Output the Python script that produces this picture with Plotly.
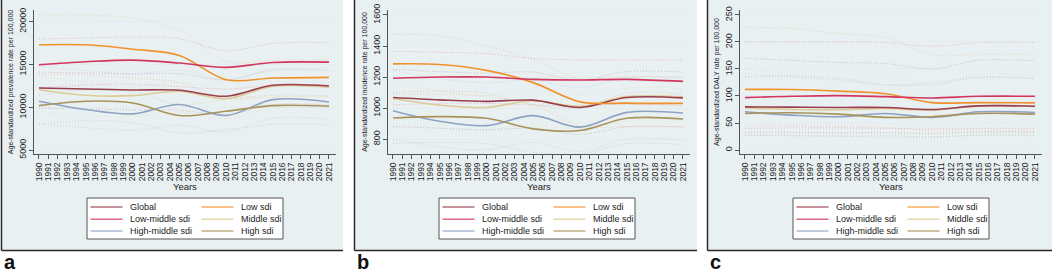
import plotly.graph_objects as go

# ---------------- data ----------------
YEARS = [1990, 1995, 2000, 2005, 2010, 2015, 2021]
X_TICKS = list(range(1990, 2022))
SERIES = ["Global", "Low sdi", "Low-middle sdi", "Middle sdi", "High-middle sdi", "High sdi"]

# panel a: age-standardized prevalence rate per 100,000
prev_global = [12250, 12130, 12020, 11980, 11280, 12560, 12480]
prev_global_lo = [9900, 9800, 9700, 9650, 9100, 10300, 10250]
prev_global_hi = [14100, 14000, 13900, 13900, 13200, 14300, 14250]
prev_low = [17290, 17290, 16780, 16050, 13220, 13410, 13490]
prev_low_lo = [13800, 13800, 13400, 12900, 11000, 11200, 11280]
prev_low_hi = [20800, 20750, 20400, 19000, 15350, 15500, 15550]
prev_lowmid = [14960, 15310, 15500, 15160, 14650, 15230, 15270]
prev_lowmid_lo = [12300, 12600, 12700, 12400, 12100, 12550, 12600]
prev_lowmid_hi = [17950, 18100, 18200, 18000, 16600, 17450, 17550]
prev_middle = [12050, 11400, 11350, 11860, 11010, 12440, 12330]
prev_middle_lo = [9500, 9000, 8950, 9400, 8700, 9900, 9800]
prev_middle_hi = [13600, 12900, 12400, 12900, 12100, 12900, 12900]
prev_highmid = [10700, 9730, 9225, 10310, 9030, 10890, 10620]
prev_highmid_lo = [8000, 7600, 7300, 7900, 7100, 8700, 8600]
prev_highmid_hi = [14800, 14300, 13900, 14300, 13200, 14500, 14420]
prev_high = [10190, 10700, 10500, 9030, 9530, 10190, 10110]
prev_high_lo = [7980, 8400, 8200, 7000, 7400, 8000, 7950]
prev_high_hi = [11400, 12000, 11800, 10300, 10900, 11400, 11300]

# panel b: age-standardized incidence rate per 100,000
inc_global = [1068, 1053, 1043, 1051, 1004, 1068, 1066]
inc_global_lo = [880, 870, 860, 870, 830, 880, 878]
inc_global_hi = [1250, 1235, 1225, 1232, 1180, 1235, 1232]
inc_low = [1285, 1281, 1243, 1164, 1040, 1032, 1030]
inc_low_lo = [1090, 1090, 1075, 1020, 885, 880, 878]
inc_low_hi = [1475, 1465, 1400, 1313, 1190, 1200, 1200]
inc_lowmid = [1192, 1200, 1200, 1185, 1181, 1185, 1172]
inc_lowmid_lo = [1020, 1030, 1030, 1020, 1015, 1025, 1015]
inc_lowmid_hi = [1365, 1360, 1350, 1320, 1310, 1310, 1310]
inc_middle = [1062, 1019, 1004, 1047, 1011, 1074, 1072]
inc_middle_lo = [900, 870, 860, 895, 865, 915, 912]
inc_middle_hi = [1175, 1110, 1080, 1120, 1085, 1130, 1125]
inc_highmid = [983, 915, 887, 951, 877, 972, 968]
inc_highmid_lo = [800, 750, 730, 780, 720, 800, 795]
inc_highmid_hi = [1243, 1190, 1164, 1180, 1132, 1200, 1195]
inc_high = [936, 945, 934, 866, 855, 934, 930]
inc_high_lo = [770, 780, 770, 715, 705, 770, 765]
inc_high_hi = [1100, 1110, 1095, 1020, 1005, 1095, 1090]

# panel c: age-standardized DALY rate per 100,000
daly_global = [79.9, 79.3, 78.7, 78.7, 75.0, 81.7, 81.1]
daly_global_lo = [33, 33, 32, 32, 31, 33, 33]
daly_global_hi = [170, 166, 162, 160, 150, 166, 165]
daly_low = [112.2, 112.0, 109.0, 104.3, 87.8, 87.8, 87.2]
daly_low_lo = [45, 45, 44, 42, 36, 36, 36]
daly_low_hi = [227, 225, 216, 208, 176, 177, 177]
daly_lowmid = [97.0, 99.4, 100.6, 98.8, 96.3, 99.4, 99.4]
daly_lowmid_lo = [40, 41, 41, 40, 39, 40, 40]
daly_lowmid_hi = [200, 200, 200, 199, 192, 199, 199]
daly_middle = [78.0, 75.0, 74.4, 76.8, 73.8, 81.7, 81.0]
daly_middle_lo = [31, 30, 30, 31, 30, 33, 33]
daly_middle_hi = [150, 140, 126, 140, 120, 140, 138]
daly_highmid = [70.7, 64.6, 61.6, 67.7, 60.4, 70.7, 69.5]
daly_highmid_lo = [28, 26, 25, 27, 24, 28, 28]
daly_highmid_hi = [142, 135, 130, 120, 125, 135, 133]
daly_high = [67.7, 68.9, 66.5, 60.4, 61.6, 67.7, 66.5]
daly_high_lo = [27, 27, 26, 24, 24, 27, 26]
daly_high_hi = [135, 137, 133, 121, 121, 134, 132]

PREV_TICKS = [5000, 10000, 15000, 20000]
INC_TICKS = [800, 1000, 1200, 1400, 1600]
DALY_TICKS = [0, 50, 100, 150, 200, 250]

# ---------------- styles ----------------
COLORS = {
    "Global": (154, 62, 78),
    "Low sdi": (240, 146, 43),
    "Low-middle sdi": (210, 54, 95),
    "Middle sdi": (220, 203, 150),
    "High-middle sdi": (142, 162, 194),
    "High sdi": (168, 147, 90),
}
FONT = "Liberation Sans, Arial, sans-serif"
W, H = 1052, 274


def px(x):
    return x / W


def py(y):
    return 1 - y / H


panels = [
    dict(label="a", bg=(2, 343), dom=(34.3, 335.5), yr=(4536, 21357), ticks=PREV_TICKS,
         ytitle="Age-standardized prevalence rate per 100,000", leg=87,
         data={"Global": (prev_global, prev_global_lo, prev_global_hi),
               "Low sdi": (prev_low, prev_low_lo, prev_low_hi),
               "Low-middle sdi": (prev_lowmid, prev_lowmid_lo, prev_lowmid_hi),
               "Middle sdi": (prev_middle, prev_middle_lo, prev_middle_hi),
               "High-middle sdi": (prev_highmid, prev_highmid_lo, prev_highmid_hi),
               "High sdi": (prev_high, prev_high_lo, prev_high_hi)}),
    dict(label="b", bg=(355, 697), dom=(388.3, 689.5), yr=(704, 1632), ticks=INC_TICKS,
         ytitle="Age-standardized incidence rate per 100,000", leg=439,
         data={"Global": (inc_global, inc_global_lo, inc_global_hi),
               "Low sdi": (inc_low, inc_low_lo, inc_low_hi),
               "Low-middle sdi": (inc_lowmid, inc_lowmid_lo, inc_lowmid_hi),
               "Middle sdi": (inc_middle, inc_middle_lo, inc_middle_hi),
               "High-middle sdi": (inc_highmid, inc_highmid_lo, inc_highmid_hi),
               "High sdi": (inc_high, inc_high_lo, inc_high_hi)}),
    dict(label="c", bg=(708, 1052), dom=(740.3, 1041.5), yr=(-7.4, 259.2), ticks=DALY_TICKS,
         ytitle="Age-standardized DALY rate per 100,000", leg=793,
         data={"Global": (daly_global, daly_global_lo, daly_global_hi),
               "Low sdi": (daly_low, daly_low_lo, daly_low_hi),
               "Low-middle sdi": (daly_lowmid, daly_lowmid_lo, daly_lowmid_hi),
               "Middle sdi": (daly_middle, daly_middle_lo, daly_middle_hi),
               "High-middle sdi": (daly_highmid, daly_highmid_lo, daly_highmid_hi),
               "High sdi": (daly_high, daly_high_lo, daly_high_hi)}),
]

fig = go.Figure()
shapes = []
annotations = []
layout = {}

for i, p in enumerate(panels):
    n = "" if i == 0 else str(i + 1)
    xa, ya = "x" + n, "y" + n
    # CI dotted lines first
    for s in SERIES:
        r, g, b = COLORS[s]
        mean, lo, hi = p["data"][s]
        for ci in (lo, hi):
            fig.add_trace(go.Scatter(
                x=YEARS, y=ci, mode="lines", xaxis=xa, yaxis=ya, showlegend=False,
                line=dict(color=f"rgba({r},{g},{b},0.32)", width=1, dash="1px,2px",
                          shape="spline", smoothing=1.0),
                hoverinfo="skip"))
    for s in ["Middle sdi", "High-middle sdi", "High sdi", "Global", "Low sdi", "Low-middle sdi"]:
        r, g, b = COLORS[s]
        mean = p["data"][s][0]
        fig.add_trace(go.Scatter(
            x=YEARS, y=mean, mode="lines", name=s, xaxis=xa, yaxis=ya, showlegend=False,
            line=dict(color=f"rgb({r},{g},{b})", width=1.6, shape="spline", smoothing=1.0)))

    layout["xaxis" + n] = dict(
        domain=[px(p["dom"][0]), px(p["dom"][1])], anchor=ya, range=[1989.5, 2021.7],
        tickmode="array", tickvals=X_TICKS, ticktext=[str(t) for t in X_TICKS],
        tickangle=-90, tickfont=dict(size=8.5, color="#222", family=FONT),
        ticks="outside", ticklen=4, tickcolor="#555", showline=True, linecolor="#555",
        linewidth=1, showgrid=False, zeroline=False, automargin=False, fixedrange=True,
        title=dict(text="Years", font=dict(size=9.5, color="#222", family=FONT), standoff=3))
    layout["yaxis" + n] = dict(
        domain=[py(154), py(10)], anchor=xa, range=list(p["yr"]),
        tickmode="array", tickvals=p["ticks"], ticktext=[str(t) for t in p["ticks"]],
        tickangle=-90, tickfont=dict(size=9, color="#222", family=FONT),
        ticks="outside", ticklen=4, tickcolor="#555", showline=True, linecolor="#555",
        linewidth=1, showgrid=True, gridcolor="#E4ECEF", gridwidth=1, zeroline=False,
        automargin=False, fixedrange=True,
        title=dict(text=p["ytitle"], font=dict(size=7, color="#222", family=FONT), standoff=3))

    # panel background and frame
    x0, x1 = p["bg"]
    shapes.append(dict(type="rect", xref="paper", yref="paper", x0=px(x0), x1=px(x1),
                       y0=py(250), y1=py(0), fillcolor="#E9F0F2", line=dict(width=0),
                       layer="below"))
    shapes.append(dict(type="line", xref="paper", yref="paper", x0=px(x0 - 0.5), x1=px(x0 - 0.5),
                       y0=py(250.5), y1=py(0), line=dict(color="#2a2a2a", width=1.5)))
    shapes.append(dict(type="line", xref="paper", yref="paper", x0=px(x0 - 0.5), x1=px(x1),
                       y0=py(250.5), y1=py(250.5), line=dict(color="#2a2a2a", width=1.5)))

    # legend box
    lx = p["leg"]
    shapes.append(dict(type="rect", xref="paper", yref="paper", x0=px(lx), x1=px(lx + 196),
                       y0=py(239), y1=py(198), fillcolor="white",
                       line=dict(color="#555", width=1), layer="above"))
    cols = [["Global", "Low-middle sdi", "High-middle sdi"], ["Low sdi", "Middle sdi", "High sdi"]]
    col_off = [(3.5, 35.5, 41), (114.5, 146.5, 152)]
    rows_y = [207, 219.3, 231]
    for c, names in enumerate(cols):
        l0, l1, t0 = col_off[c]
        for rr, s in enumerate(names):
            r, g, b = COLORS[s]
            yy = rows_y[rr]
            shapes.append(dict(type="line", xref="paper", yref="paper",
                               x0=px(lx + l0), x1=px(lx + l1), y0=py(yy), y1=py(yy),
                               line=dict(color=f"rgba({r},{g},{b},0.75)", width=1.5),
                               layer="above"))
            annotations.append(dict(text=s, xref="paper", yref="paper", x=px(lx + t0),
                                    y=py(yy), xanchor="left", yanchor="middle", showarrow=False,
                                    font=dict(size=9, color="#222", family=FONT)))
    annotations.append(dict(text="<b>" + p["label"] + "</b>", xref="paper", yref="paper",
                            x=px(x0), y=py(262), xanchor="left", yanchor="middle",
                            showarrow=False, font=dict(size=20, color="#111", family=FONT)))

fig.update_layout(
    width=W, height=H, margin=dict(l=0, r=0, t=0, b=0, pad=0),
    paper_bgcolor="white", plot_bgcolor="white", showlegend=False,
    shapes=shapes, annotations=annotations, font=dict(family=FONT), **layout)

fig.write_html("out.html", config={"displayModeBar": False},
               post_script="document.body.style.margin='0';document.body.style.overflow='hidden';")
